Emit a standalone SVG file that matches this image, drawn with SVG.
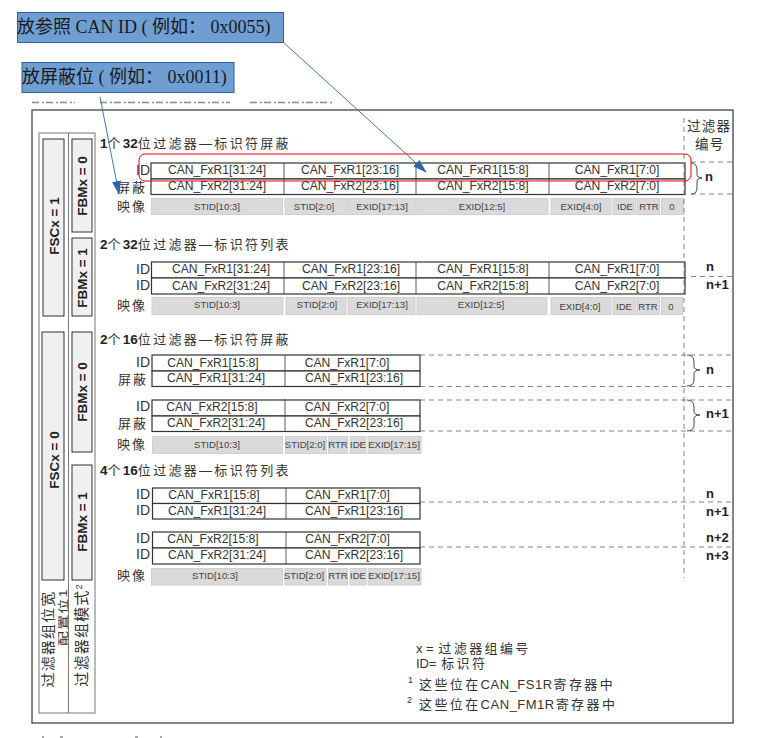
<svg xmlns="http://www.w3.org/2000/svg" width="766" height="738" viewBox="0 0 766 738">
<defs>
<marker id="ah" markerWidth="14" markerHeight="10" refX="13" refY="4.500" orient="auto" markerUnits="userSpaceOnUse"><path d="M0 0L14 4.500L0 9Z" fill="#2f66a8"/></marker>
</defs>
<style>
text{font-family:"Liberation Sans","Noto Sans CJK SC",sans-serif;fill:#333}
.c{font-size:12.1px;text-anchor:middle}
.g{font-size:9.6px;text-anchor:middle;fill:#444}
.cell{fill:#dadada;stroke:#cfcfcf;stroke-width:1}
.t{fill:#fff;stroke:#333;stroke-width:1.2}
.d{stroke:#333;stroke-width:.8}
.dash{stroke:#666;stroke-width:.8;stroke-dasharray:5 4;fill:none}
.h{font-size:13.5px;font-weight:bold;fill:#222}
.h2{font-size:13px;fill:#333;letter-spacing:2.3px}
.lab{font-size:13px;text-anchor:end;letter-spacing:2px}
.idl{font-size:14px;text-anchor:end}
.n{font-size:13px;font-weight:bold;fill:#222}
.side{fill:#f0f0f0;stroke:#333;stroke-width:1}
.sl{font-size:13.5px;font-weight:bold;text-anchor:middle;fill:#222}
.box{fill:#6f9ed2;stroke:#2f5f9f;stroke-width:1}
.bt{font-family:"Liberation Serif","Noto Sans CJK SC",serif;font-size:18px;fill:#1a1a1a}
.note{font-size:13px;fill:#333}
.cj{letter-spacing:2.4px}
.lat{letter-spacing:.5px}
.vt{font-size:15px;text-anchor:middle;fill:#333;letter-spacing:1.200px}
.brace{fill:none;stroke:#333;stroke-width:.9}
.sliver{fill:none;stroke:#8a8a8a;stroke-width:1.400}
</style>
<rect width="766" height="738" fill="#fff"/>
<path class="sliver" stroke-dasharray="7 3 2 2" d="M32 102.500H75M100 102.500H230M250 102.500H333"/>
<path class="sliver" stroke-width="1" d="M42 737H44M60 737H63M135 737H138M160 737H162"/>
<g id="frame">
<rect x="32" y="110" width="701" height="613" fill="#fff" stroke="#444" stroke-width="1.3"/>
<rect x="39" y="133" width="56" height="580" fill="#fff" stroke="#777"/>
<line x1="68.500" y1="133" x2="68.500" y2="713" stroke="#777"/>
</g>
<g id="fsc1"><rect class="side" x="43" y="139" width="21" height="177"/><text class="sl" transform="translate(58.500,226) rotate(-90)">FSCx = 1</text></g>
<g id="fsc0"><rect class="side" x="42" y="332" width="22" height="248"/><text class="sl" transform="translate(58.500,460) rotate(-90)">FSCx = 0</text></g>
<g id="fbm0a"><rect class="side" x="72" y="139" width="20" height="93"/><text class="sl" transform="translate(87,186) rotate(-90)">FBMx = 0</text></g>
<g id="fbm1a"><rect class="side" x="72" y="238" width="20" height="78"/><text class="sl" transform="translate(87,278) rotate(-90)">FBMx = 1</text></g>
<g id="fbm0b"><rect class="side" x="72" y="332" width="20" height="120"/><text class="sl" transform="translate(87,392) rotate(-90)">FBMx = 0</text></g>
<g id="fbm1b"><rect class="side" x="72" y="465" width="20" height="115"/><text class="sl" transform="translate(87,522) rotate(-90)">FBMx = 1</text></g>
<g id="sidelabels">
<text class="vt" transform="translate(53,639) rotate(-90) scale(1,.9)">过滤器组位宽</text>
<text class="vt" transform="translate(66.500,617) rotate(-90) scale(1,.72)">配置位1</text>
<text class="vt" transform="translate(87,635) rotate(-90)">过滤器组模式<tspan font-size="9" dy="-5">2</tspan></text>
</g>

<g id="sec1">
<text x="100" y="148" class="h">1<tspan class="h2" font-weight="normal">个</tspan>32<tspan class="h2" font-weight="normal">位过滤器—标识符屏蔽</tspan></text>
<text class="idl" x="150" y="175">ID</text><text class="lab" x="147" y="192">屏蔽</text><text class="lab" x="147" y="211">映像</text>
<rect class="t" x="151" y="163" width="534" height="16"/><rect class="t" x="151" y="179" width="534" height="15.500"/>
<path class="d" d="M284 163V195M416 163V195M549 163V195"/>
<text class="c" x="217" y="174">CAN_FxR1[31:24]</text><text class="c" x="350" y="174">CAN_FxR1[23:16]</text><text class="c" x="483" y="174">CAN_FxR1[15:8]</text><text class="c" x="617" y="174">CAN_FxR1[7:0]</text>
<text class="c" x="217" y="190">CAN_FxR2[31:24]</text><text class="c" x="350" y="190">CAN_FxR2[23:16]</text><text class="c" x="483" y="190">CAN_FxR2[15:8]</text><text class="c" x="617" y="190">CAN_FxR2[7:0]</text>
<rect class="cell" x="151.500" y="198.500" width="131" height="16"/><rect class="cell" x="285" y="198.500" width="62" height="16"/><rect class="cell" x="348" y="198.500" width="68" height="16"/><rect class="cell" x="417" y="198.500" width="131" height="16"/><rect class="cell" x="551" y="198.500" width="60" height="16"/><rect class="cell" x="613" y="198.500" width="23" height="16"/><rect class="cell" x="637.500" y="198.500" width="22" height="16"/><rect class="cell" x="661.500" y="198.500" width="22" height="16"/>
<text class="g" x="217" y="210">STID[10:3]</text><text class="g" x="314" y="210">STID[2:0]</text><text class="g" x="382" y="210">EXID[17:13]</text><text class="g" x="482" y="210">EXID[12:5]</text><text class="g" x="581" y="210">EXID[4:0]</text><text class="g" x="625" y="210">IDE</text><text class="g" x="649" y="210">RTR</text><text class="g" x="672" y="210">0</text>
</g>

<g id="sec2">
<text x="100" y="249" class="h">2<tspan class="h2" font-weight="normal">个</tspan>32<tspan class="h2" font-weight="normal">位过滤器—标识符列表</tspan></text>
<text class="idl" x="150" y="274">ID</text><text class="idl" x="150" y="290">ID</text><text class="lab" x="147" y="310">映像</text>
<rect class="t" x="151.500" y="262" width="533.500" height="16"/><rect class="t" x="151.500" y="278" width="533.500" height="16"/>
<path class="d" d="M284 262V294M416 262V294M549 262V294"/>
<text class="c" x="221" y="273">CAN_FxR1[31:24]</text><text class="c" x="351" y="273">CAN_FxR1[23:16]</text><text class="c" x="483" y="273">CAN_FxR1[15:8]</text><text class="c" x="617" y="273">CAN_FxR1[7:0]</text>
<text class="c" x="221" y="290">CAN_FxR2[31:24]</text><text class="c" x="351" y="290">CAN_FxR2[23:16]</text><text class="c" x="483" y="290">CAN_FxR2[15:8]</text><text class="c" x="617" y="290">CAN_FxR2[7:0]</text>
<rect class="cell" x="152" y="297.500" width="131" height="17"/><rect class="cell" x="286" y="297.500" width="60" height="17"/><rect class="cell" x="348" y="297.500" width="67" height="17"/><rect class="cell" x="417" y="297.500" width="130" height="17"/><rect class="cell" x="551" y="297.500" width="60" height="17"/><rect class="cell" x="613" y="297.500" width="23" height="17"/><rect class="cell" x="637.500" y="297.500" width="22" height="17"/><rect class="cell" x="661.500" y="297.500" width="21" height="17"/>
<text class="g" x="217" y="308">STID[10:3]</text><text class="g" x="317" y="308">STID[2:0]</text><text class="g" x="382" y="308">EXID[17:13]</text><text class="g" x="481" y="308">EXID[12:5]</text><text class="g" x="580" y="310">EXID[4:0]</text><text class="g" x="624" y="310">IDE</text><text class="g" x="648" y="310">RTR</text><text class="g" x="671" y="310">0</text>
</g>

<g id="sec3">
<text x="100" y="344" class="h">2<tspan class="h2" font-weight="normal">个</tspan>16<tspan class="h2" font-weight="normal">位过滤器—标识符屏蔽</tspan></text>
<text class="idl" x="150" y="367">ID</text><text class="lab" x="148" y="384">屏蔽</text>
<rect class="t" x="152" y="355" width="268" height="16"/><rect class="t" x="152" y="371" width="268" height="15.500"/><path class="d" d="M285 355V387"/>
<text class="c" x="213" y="367">CAN_FxR1[15:8]</text><text class="c" x="347" y="367">CAN_FxR1[7:0]</text><text class="c" x="216" y="382">CAN_FxR1[31:24]</text><text class="c" x="354" y="382">CAN_FxR1[23:16]</text>
<text class="idl" x="150" y="411">ID</text><text class="lab" x="148" y="428">屏蔽</text><text class="lab" x="147" y="449">映像</text>
<rect class="t" x="152" y="400" width="268" height="16"/><rect class="t" x="152" y="416" width="268" height="15.500"/><path class="d" d="M285 399V432"/>
<text class="c" x="212" y="411">CAN_FxR2[15:8]</text><text class="c" x="347" y="411">CAN_FxR2[7:0]</text><text class="c" x="216" y="427">CAN_FxR2[31:24]</text><text class="c" x="354" y="427">CAN_FxR2[23:16]</text>
<rect class="cell" x="152.500" y="436.500" width="130" height="17"/><rect class="cell" x="285.500" y="436.500" width="41" height="17"/><rect class="cell" x="328.500" y="436.500" width="19" height="17"/><rect class="cell" x="350" y="436.500" width="16" height="17"/><rect class="cell" x="368" y="436.500" width="53" height="17"/>
<text class="g" x="217" y="448">STID[10:3]</text><text class="g" x="305" y="448">STID[2:0]</text><text class="g" x="338" y="448">RTR</text><text class="g" x="358" y="448">IDE</text><text class="g" x="394" y="448">EXID[17:15]</text>
</g>

<g id="sec4">
<text x="100" y="475" class="h">4<tspan class="h2" font-weight="normal">个</tspan>16<tspan class="h2" font-weight="normal">位过滤器—标识符列表</tspan></text>
<text class="idl" x="150" y="499">ID</text><text class="idl" x="150" y="515">ID</text>
<rect class="t" x="152.500" y="488" width="267.500" height="15.500"/><rect class="t" x="152.500" y="503.500" width="267.500" height="15.500"/><path class="d" d="M286 488V519"/>
<text class="c" x="214" y="499">CAN_FxR1[15:8]</text><text class="c" x="347.500" y="499">CAN_FxR1[7:0]</text><text class="c" x="217" y="515">CAN_FxR1[31:24]</text><text class="c" x="354" y="515">CAN_FxR1[23:16]</text>
<text class="idl" x="150" y="543">ID</text><text class="idl" x="150" y="559">ID</text><text class="lab" x="147" y="580">映像</text>
<rect class="t" x="152.500" y="532" width="267.500" height="16"/><rect class="t" x="152.500" y="548" width="267.500" height="16"/><path class="d" d="M286 532V564"/>
<text class="c" x="213" y="543">CAN_FxR2[15:8]</text><text class="c" x="347.500" y="543">CAN_FxR2[7:0]</text><text class="c" x="217" y="559">CAN_FxR2[31:24]</text><text class="c" x="354" y="559">CAN_FxR2[23:16]</text>
<rect class="cell" x="151.500" y="568.500" width="131" height="16.500"/><rect class="cell" x="285" y="568.500" width="41" height="16.500"/><rect class="cell" x="328.500" y="568.500" width="19" height="16.500"/><rect class="cell" x="350" y="568.500" width="16" height="16.500"/><rect class="cell" x="368" y="568.500" width="53" height="16.500"/>
<text class="g" x="215" y="579">STID[10:3]</text><text class="g" x="304" y="579">STID[2:0]</text><text class="g" x="338" y="579">RTR</text><text class="g" x="358" y="579">IDE</text><text class="g" x="394" y="579">EXID[17:15]</text>
</g>

<g id="numbering">
<text x="687" y="131" font-size="13.500" letter-spacing="1.200">过滤器</text><text x="695" y="149" font-size="13.500" letter-spacing="1.200">编号</text>
<path class="brace" d="M691 163Q697 163 697 170V174Q697 178 702 178Q697 178 697 182V188Q697 194 691 194"/>
<path class="brace" d="M687 355Q694 355 694 362V366Q694 370 700 370Q694 370 694 374V380Q694 386 687 386"/>
<path class="brace" d="M687 400Q694 400 694 407V411Q694 415 700 415Q694 415 694 419V425Q694 431 687 431"/>
<text class="n" x="705" y="181">n</text><text class="n" x="706" y="271">n</text><text class="n" x="706" y="289">n+1</text>
<text class="n" x="706" y="374">n</text><text class="n" x="706" y="418">n+1</text>
<text class="n" x="706" y="498">n</text><text class="n" x="706" y="516">n+1</text><text class="n" x="706" y="542">n+2</text><text class="n" x="706" y="560">n+3</text>
</g>
<g id="notes">
<text class="note" x="416" y="653">x = <tspan class="cj" dx="1">过滤器组编号</tspan></text>
<text class="note" x="416" y="668">ID= <tspan class="cj" dx="1">标识符</tspan></text>
<text font-size="9" x="408" y="683">1</text><text class="note" x="419" y="689"><tspan class="cj">这些位在</tspan><tspan class="lat">CAN_FS1R</tspan><tspan class="cj" dx="1">寄存器中</tspan></text>
<text font-size="9" x="407" y="703">2</text><text class="note" x="419" y="709"><tspan class="cj">这些位在</tspan><tspan class="lat">CAN_FM1R</tspan><tspan class="cj" dx="1">寄存器中</tspan></text>
</g>
<g id="connectors">
<path class="dash" d="M684 118V578"/>
<path class="dash" d="M691 162H733M691 194H733M691 276.500H733M420 355H733M420 386.500H733M420 400H733M420 431H733M420 502H733M420 547H733"/>
<rect x="139" y="154" width="552" height="27" rx="6" fill="none" stroke="#e8000b" stroke-width="1"/>
<line x1="283" y1="42" x2="426" y2="172" stroke="#2f66a8" stroke-width=".9" marker-end="url(#ah)"/>
<line x1="100" y1="97" x2="119" y2="194" stroke="#2f66a8" stroke-width=".9" marker-end="url(#ah)"/>
</g>
<g id="box-can-id"><rect class="box" x="17.500" y="12.500" width="266" height="30"/><text class="bt" x="17" y="33">放参照 CAN ID ( 例如： 0x0055)</text></g>
<g id="box-mask"><rect class="box" x="22" y="62.500" width="212" height="30"/><text class="bt" x="22" y="83">放屏蔽位  ( 例如： 0x0011)</text></g>
</svg>
